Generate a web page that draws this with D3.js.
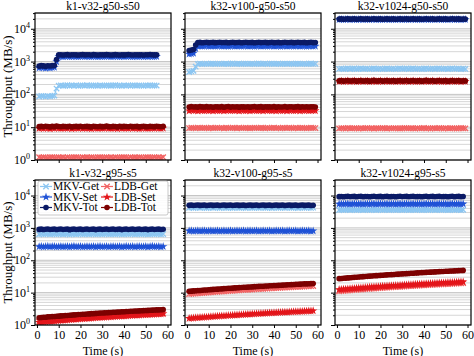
<!DOCTYPE html>
<html><head><meta charset="utf-8">
<script src="https://cdn.jsdelivr.net/npm/d3@7"></script>
<style>body{margin:0;background:#fff}svg{display:block}svg text{font-family:"Liberation Serif","DejaVu Serif",serif;fill:#000}</style>
</head><body><svg id="c" width="474" height="356"></svg>
<script>
const times = [1,2,3,4,5,6,7,8,9,10,11,12,13,14,15,16,17,18,19,20,21,22,23,24,25,26,27,28,29,30,31,32,33,34,35,36,37,38,39,40,41,42,43,44,45,46,47,48,49,50,51,52,53,54,55,56,57,58,59];
const panelTitles = ["k1-v32-g50-s50","k32-v100-g50-s50","k32-v1024-g50-s50","k1-v32-g95-s5","k32-v100-g95-s5","k32-v1024-g95-s5"];
const seriesNames = ["MKV-Get","MKV-Set","MKV-Tot","LDB-Get","LDB-Set","LDB-Tot"];
const xTicks = [0,10,20,30,40,50,60];
const yTicks = [1,10,100,1000,10000];

// Panel 1: k1-v32-g50-s50
const p1MkvGet = [86,90,88,85,89,87,90,92,150,184,188,182,186,190,183,187,185,189,181,186,188,184,190,185,183,187,186,182,189,185,184,188,186,183,187,190,184,186,182,188,185,187,183,189,186,184,188,185,182,187,186,189,184,186,185];
const p1MkvSet = [640,660,650,630,655,645,660,670,1000,1410,1430,1400,1425,1440,1405,1420,1435,1415,1400,1425,1440,1410,1430,1420,1405,1435,1415,1400,1430,1420,1410,1440,1425,1405,1415,1435,1420,1400,1430,1410,1425,1440,1415,1405,1430,1420,1410,1435,1400,1425,1415,1440,1420,1410,1430];
const p1MkvTot = [726,750,738,715,744,732,750,762,1150,1594,1618,1582,1611,1630,1588,1607,1620,1600,1581,1610,1628,1594,1620,1605,1588,1622,1601,1582,1619,1606,1594,1630,1610,1588,1602,1625,1606,1582,1617,1597,1613,1628,1601,1587,1617,1606,1594,1621,1582,1612,1601,1628,1606,1596,1619];
const p1LdbGet = [1.21,1.19,1.22,1.2,1.18,1.21,1.23,1.2,1.19,1.22,1.2,1.21,1.18,1.22,1.2,1.19,1.21,1.23,1.2,1.18,1.22,1.2,1.21,1.19,1.22,1.2,1.18,1.21,1.23,1.2,1.19,1.22,1.2,1.21,1.18,1.22,1.2,1.19,1.21,1.23,1.2,1.18,1.22,1.2,1.21,1.19,1.22,1.2,1.18,1.21,1.23,1.2,1.19,1.22,1.2,1.21,1.18,1.22];
const p1LdbSet = [9.2,9.4,9.1,9.5,9.3,9.0,9.4,9.2,9.6,9.3,9.1,9.4,9.3,9.2,9.5,9.0,9.3,9.4,9.2,9.5,9.1,9.3,9.4,9.2,9.0,9.5,9.3,9.1,9.4,9.2,9.3,9.6,9.2,9.1,9.4,9.3,9.0,9.5,9.2,9.4,9.3,9.1,9.5,9.2,9.3,9.4,9.0,9.3,9.5,9.2,9.1,9.4,9.3,9.2,9.5,9.3,9.1,9.4];
const p1LdbTot = [10.4,10.6,10.3,10.7,10.5,10.2,10.6,10.4,10.8,10.5,10.3,10.6,10.5,10.4,10.7,10.2,10.5,10.6,10.4,10.7,10.3,10.5,10.6,10.4,10.2,10.7,10.5,10.3,10.6,10.4,10.5,10.8,10.4,10.3,10.6,10.5,10.2,10.7,10.4,10.6,10.5,10.3,10.7,10.4,10.5,10.6,10.2,10.5,10.7,10.4,10.3,10.6,10.5,10.4,10.7,10.5,10.3,10.6];

// Panel 2: k32-v100-g50-s50
const p2MkvGet = [480,500,520,700,850,862,840,855,870,845,858,866,842,851,868,847,855,861,839,857,872,849,853,864,841,856,869,846,852,863,840,858,871,848,854,866,843,857,869,845,851,862,840,856,870,847,853,865,842,858,868,846,852,861,839,857,871,848,855];
const p2MkvSet = [1700,1750,1800,2500,2950,2980,2920,2960,3000,2930,2970,2990,2925,2955,2995,2935,2960,2975,2915,2965,3005,2940,2950,2985,2920,2960,2995,2935,2950,2980,2915,2965,3000,2940,2955,2990,2925,2960,2995,2930,2950,2975,2915,2960,3000,2935,2950,2985,2925,2965,2995,2935,2950,2975,2915,2960,3005,2940,2955];
const p2MkvTot = [2180,2250,2320,3200,3800,3842,3760,3815,3870,3775,3828,3856,3767,3806,3863,3782,3815,3836,3754,3822,3877,3789,3803,3849,3761,3816,3864,3781,3802,3843,3755,3823,3871,3788,3809,3856,3768,3817,3864,3775,3801,3837,3755,3816,3870,3782,3803,3850,3767,3823,3863,3781,3802,3836,3754,3817,3876,3788,3810];
const p2LdbGet = [9.4,9.6,9.5,9.3,9.7,9.5,9.4,9.6,9.5,9.3,9.6,9.4,9.5,9.7,9.4,9.5,9.3,9.6,9.5,9.4,9.7,9.5,9.3,9.6,9.4,9.5,9.6,9.4,9.3,9.5,9.7,9.5,9.4,9.6,9.5,9.3,9.6,9.4,9.5,9.7,9.4,9.5,9.3,9.6,9.5,9.4,9.7,9.5,9.3,9.6,9.4,9.5,9.6,9.4,9.3,9.5,9.7,9.5,9.4];
const p2LdbSet = [31.5,32.8,31.9,32.4,31.2,32.9,32.1,31.6,32.7,31.8,32.5,31.3,32.6,32.0,31.7,32.8,31.4,32.2,32.9,31.6,32.3,31.9,32.7,31.2,32.5,32.0,31.8,32.6,31.5,32.4,32.9,31.7,32.1,32.6,31.3,32.8,31.9,32.2,31.6,32.7,31.4,32.5,32.0,31.8,32.9,31.5,32.3,32.6,31.7,32.1,32.8,31.4,32.4,31.9,32.7,31.6,32.2,32.5,31.8];
const p2LdbTot = [41.0,42.4,41.4,41.7,40.9,42.4,41.5,41.2,42.2,41.1,42.1,40.7,42.1,41.7,41.1,42.3,40.7,41.8,42.4,41.0,42.0,41.4,42.0,40.8,41.9,41.5,41.4,42.0,40.8,41.9,42.6,41.2,41.5,42.2,40.8,42.1,41.5,41.6,41.1,42.4,40.8,42.0,41.3,41.4,42.4,40.9,42.0,42.1,41.0,41.7,42.2,40.9,42.0,41.3,42.0,41.1,41.9,42.0,41.2];

// Panel 3: k32-v1024-g50-s50
const p3MkvGet = [598,612,590,605,618,594,607,615,592,603,617,596,604,610,588,606,620,595,601,613,591,605,616,597,602,611,589,607,619,596,603,614,593,606,617,594,601,611,589,605,618,596,602,613,592,607,616,595,601,610,588,606,620,597,603,612,590,605,598];
const p3MkvSet = [19100,19350,18950,19250,19450,19000,19300,19400,18980,19200,19420,19050,19220,19330,18920,19260,19480,19020,19180,19380,18960,19240,19440,19060,19170,19360,18930,19270,19460,19040,19210,19400,18990,19250,19430,19010,19190,19350,18940,19230,19470,19050,19200,19390,18970,19280,19450,19030,19180,19340,18920,19260,19480,19060,19220,19370,18980,19240,19100];
const p3MkvTot = [19700,19960,19540,19860,20070,19590,19910,20020,19570,19800,20040,19650,19820,19940,19510,19870,20100,19620,19780,19990,19550,19850,20060,19660,19770,19970,19520,19880,20080,19640,19810,20010,19580,19860,20050,19600,19790,19960,19530,19840,20090,19650,19800,20000,19560,19890,20070,19630,19780,19950,19510,19870,20100,19660,19820,19980,19570,19850,19700];
const p3LdbGet = [9.2,9.4,9.3,9.1,9.5,9.3,9.2,9.4,9.3,9.1,9.4,9.2,9.3,9.5,9.2,9.3,9.1,9.4,9.3,9.2,9.5,9.3,9.1,9.4,9.2,9.3,9.4,9.2,9.1,9.3,9.5,9.3,9.2,9.4,9.3,9.1,9.4,9.2,9.3,9.5,9.2,9.3,9.1,9.4,9.3,9.2,9.5,9.3,9.1,9.4,9.2,9.3,9.4,9.2,9.1,9.3,9.5,9.3,9.2];
const p3LdbSet = [248,254,245,251,257,246,252,255,244,250,256,247,251,253,243,252,258,246,249,255,245,251,256,247,249,254,244,252,257,246,250,255,245,251,256,246,249,253,244,251,258,247,250,255,245,252,256,246,249,253,243,252,257,247,250,254,245,251,248];
const p3LdbTot = [257,263,254,260,266,255,261,264,253,259,265,256,260,262,252,261,267,255,258,264,254,260,265,256,258,263,253,261,266,255,259,264,254,260,265,255,258,262,253,260,267,256,259,264,254,261,265,255,258,262,252,261,266,256,259,263,254,260,257];

// Panel 4: k1-v32-g95-s5
const p4MkvGet = [636,648,628,642,655,632,645,651,630,640,653,634,643,649,626,644,657,633,639,650,629,642,654,635,640,648,627,645,656,634,641,652,631,643,655,632,639,649,628,642,656,634,640,651,630,645,654,633,639,648,627,644,657,635,641,650,630,643];
const p4MkvSet = [263,268,260,266,271,261,267,269,259,264,270,262,265,268,258,266,272,261,264,269,259,265,270,262,264,268,258,266,271,261,265,269,260,266,270,261,264,268,258,265,271,262,264,269,260,266,270,261,264,268,258,266,272,262,265,268,260,266];
const p4MkvTot = [899,916,888,908,926,893,912,920,889,904,923,896,908,917,884,910,929,894,903,919,888,907,924,897,904,916,885,911,927,895,906,921,891,909,925,893,903,917,886,907,927,896,904,920,890,911,924,894,903,916,885,910,929,897,906,918,890,909];
const p4LdbGet = [1.26,1.28,1.30,1.31,1.34,1.35,1.37,1.38,1.41,1.42,1.44,1.46,1.48,1.49,1.52,1.53,1.55,1.57,1.59,1.60,1.62,1.64,1.66,1.67,1.70,1.71,1.73,1.75,1.77,1.78,1.80,1.82,1.84,1.85,1.88,1.89,1.91,1.93,1.95,1.96,1.98,2.00,2.02,2.03,2.06,2.07,2.09,2.11,2.13,2.14,2.16,2.18,2.20,2.21,2.24,2.25,2.27,2.29];
const p4LdbSet = [1.20,1.22,1.24,1.25,1.28,1.29,1.31,1.32,1.35,1.36,1.38,1.40,1.42,1.43,1.46,1.47,1.49,1.51,1.53,1.54,1.56,1.58,1.60,1.61,1.64,1.65,1.67,1.69,1.71,1.72,1.74,1.76,1.78,1.79,1.82,1.83,1.85,1.87,1.89,1.90,1.92,1.94,1.96,1.97,2.00,2.01,2.03,2.05,2.07,2.08,2.10,2.12,2.14,2.15,2.18,2.19,2.21,2.23];
const p4LdbTot = [1.68,1.70,1.73,1.74,1.78,1.79,1.82,1.83,1.87,1.88,1.91,1.93,1.96,1.97,2.01,2.02,2.05,2.07,2.10,2.11,2.14,2.16,2.19,2.20,2.24,2.25,2.28,2.30,2.33,2.34,2.37,2.39,2.42,2.44,2.47,2.48,2.51,2.53,2.56,2.57,2.60,2.62,2.65,2.67,2.70,2.71,2.74,2.76,2.79,2.80,2.83,2.85,2.88,2.90,2.93,2.94,2.97,3.00];

// Panel 5: k32-v100-g95-s5
const p5MkvGet = [4180,4250,4130,4220,4290,4150,4230,4270,4120,4200,4280,4160,4210,4260,4110,4220,4300,4150,4190,4270,4130,4210,4290,4160,4190,4250,4110,4230,4300,4150,4200,4270,4140,4220,4290,4150,4190,4260,4120,4210,4300,4160,4200,4270,4140,4230,4290,4150,4190,4250,4110,4220,4300,4160,4200,4260,4140,4210];
const p5MkvSet = [806,818,798,812,824,801,814,821,797,809,823,803,811,819,795,813,826,800,807,820,798,811,824,803,808,817,794,814,826,801,810,820,799,812,824,800,807,818,796,811,826,803,809,820,798,814,823,801,808,817,795,813,826,803,810,818,799,811];
const p5MkvTot = [4980,5060,4930,5020,5100,4950,5030,5080,4920,5000,5090,4960,5010,5070,4910,5020,5110,4950,4990,5080,4930,5010,5100,4960,4990,5060,4910,5030,5110,4950,5000,5080,4940,5020,5100,4950,4990,5070,4920,5010,5110,4960,5000,5080,4940,5030,5100,4950,4990,5060,4910,5020,5110,4960,5000,5070,4940,5010];
const p5LdbGet = [9.0,9.1,9.3,9.4,9.5,9.6,9.7,9.9,10.0,10.1,10.2,10.4,10.5,10.6,10.7,10.8,11.0,11.1,11.2,11.3,11.4,11.6,11.7,11.8,11.9,12.1,12.2,12.3,12.4,12.5,12.7,12.8,12.9,13.0,13.1,13.3,13.4,13.5,13.6,13.7,13.9,14.0,14.1,14.2,14.4,14.5,14.6,14.7,14.8,15.0,15.1,15.2,15.3,15.5,15.6,15.7,15.8,16.0];
const p5LdbSet = [1.60,1.63,1.64,1.67,1.68,1.71,1.72,1.75,1.76,1.79,1.80,1.83,1.84,1.87,1.88,1.91,1.92,1.95,1.96,1.99,2.00,2.03,2.04,2.07,2.08,2.11,2.12,2.15,2.16,2.19,2.20,2.23,2.24,2.27,2.28,2.31,2.32,2.35,2.36,2.39,2.40,2.43,2.44,2.47,2.48,2.51,2.52,2.55,2.56,2.59,2.60,2.63,2.64,2.67,2.68,2.71,2.72,2.75];
const p5LdbTot = [11.0,11.1,11.3,11.4,11.6,11.7,11.8,12.0,12.1,12.3,12.4,12.6,12.7,12.8,13.0,13.1,13.3,13.4,13.6,13.7,13.8,14.0,14.1,14.3,14.4,14.6,14.7,14.8,15.0,15.1,15.3,15.4,15.6,15.7,15.8,16.0,16.1,16.3,16.4,16.6,16.7,16.8,17.0,17.1,17.3,17.4,17.6,17.7,17.8,18.0,18.1,18.3,18.4,18.6,18.7,18.8,19.0,19.1];

// Panel 6: k32-v1024-g95-s5
const p6MkvGet = [3580,3640,3540,3610,3670,3550,3620,3650,3530,3600,3660,3560,3610,3640,3520,3620,3680,3550,3590,3650,3540,3610,3670,3560,3590,3640,3520,3620,3680,3550,3600,3650,3540,3610,3670,3550,3590,3640,3530,3610,3680,3560,3600,3650,3540,3620,3670,3550,3590,3640,3520,3610,3680,3560,3600,3650,3540,3610];
const p6MkvSet = [5470,5540,5420,5510,5580,5440,5520,5560,5410,5500,5570,5450,5510,5550,5400,5520,5590,5440,5480,5560,5420,5510,5580,5450,5480,5540,5400,5520,5590,5440,5500,5560,5430,5510,5580,5440,5480,5550,5410,5510,5590,5450,5500,5560,5430,5520,5580,5440,5480,5540,5400,5510,5590,5450,5500,5550,5430,5510];
const p6MkvTot = [9250,9380,9170,9320,9440,9200,9330,9400,9150,9290,9420,9220,9310,9370,9140,9330,9460,9200,9270,9400,9170,9310,9440,9220,9270,9370,9140,9330,9460,9200,9290,9400,9180,9320,9440,9200,9270,9380,9150,9310,9460,9220,9290,9400,9180,9330,9440,9200,9270,9370,9140,9310,9460,9220,9290,9390,9180,9310];
const p6LdbGet = [11.0,11.2,11.3,11.5,11.6,11.8,11.9,12.1,12.2,12.4,12.5,12.7,12.8,13.0,13.1,13.3,13.4,13.6,13.7,13.9,14.0,14.2,14.3,14.5,14.6,14.8,14.9,15.1,15.2,15.4,15.5,15.7,15.8,16.0,16.1,16.3,16.4,16.6,16.7,16.9,17.0,17.2,17.3,17.5,17.6,17.8,17.9,18.1,18.2,18.4,18.5,18.7,18.8,19.0,19.1,19.3,19.4,19.6];
const p6LdbSet = [12.5,12.6,12.8,12.9,13.1,13.3,13.4,13.6,13.7,13.9,14.1,14.2,14.4,14.5,14.7,14.9,15.0,15.2,15.3,15.5,15.7,15.8,16.0,16.1,16.3,16.5,16.6,16.8,16.9,17.1,17.3,17.4,17.6,17.7,17.9,18.1,18.2,18.4,18.5,18.7,18.9,19.0,19.2,19.3,19.5,19.7,19.8,20.0,20.1,20.3,20.5,20.6,20.8,20.9,21.1,21.3,21.4,21.6];
const p6LdbTot = [27.0,27.4,27.8,28.1,28.5,28.9,29.3,29.7,30.0,30.4,30.8,31.2,31.6,31.9,32.3,32.7,33.1,33.5,33.8,34.2,34.6,35.0,35.4,35.7,36.1,36.5,36.9,37.3,37.6,38.0,38.4,38.8,39.2,39.5,39.9,40.3,40.7,41.1,41.4,41.8,42.2,42.6,43.0,43.3,43.7,44.1,44.5,44.9,45.2,45.6,46.0,46.4,46.8,47.1,47.5,47.9,48.3,48.7];

const panelData = [
  [p1MkvGet,p1MkvSet,p1MkvTot,p1LdbGet,p1LdbSet,p1LdbTot],
  [p2MkvGet,p2MkvSet,p2MkvTot,p2LdbGet,p2LdbSet,p2LdbTot],
  [p3MkvGet,p3MkvSet,p3MkvTot,p3LdbGet,p3LdbSet,p3LdbTot],
  [p4MkvGet,p4MkvSet,p4MkvTot,p4LdbGet,p4LdbSet,p4LdbTot],
  [p5MkvGet,p5MkvSet,p5MkvTot,p5LdbGet,p5LdbSet,p5LdbTot],
  [p6MkvGet,p6MkvSet,p6MkvTot,p6LdbGet,p6LdbSet,p6LdbTot]
];

const colors = ["#8cc6f2","#1f52d6","#0a1a66","#f26262","#e3151a","#7d0000"];
const markers = ["x","star","circle","x","star","circle"];
const FONT = "Liberation Serif, DejaVu Serif, serif";

const svg = d3.select("#c");
const colX = [35,185,335], pw = 136;
const rowY = [[13,160],[180,325]];
const x = d3.scaleLinear().domain([-0.9,61.6]).range([0,pw]);

function drawMarker(g, type, color){
  if(type==="x"){
    const r=2.7;
    g.append("path").attr("d",`M${-r},${-r}L${r},${r}M${-r},${r}L${r},${-r}`).attr("stroke",color).attr("stroke-width",1.3).attr("fill","none");
  } else if(type==="star"){
    g.append("path").attr("d",d3.symbol().type(d3.symbolStar).size(22)()).attr("fill",color);
  } else {
    g.append("circle").attr("r",2.8).attr("fill",color);
  }
}

const minorVals = [];
for(let k=0;k<5;k++) for(let m=1;m<10;m++){ const v=m*Math.pow(10,k); if(v<=Math.pow(10,4.48)) minorVals.push(v); }

panelTitles.forEach((title,pi)=>{
  const col = pi%3, row = Math.floor(pi/3);
  const [top,bot] = rowY[row];
  const ph = bot-top;
  const y = d3.scaleLog().domain([1,Math.pow(10,4.48)]).range([ph,0]);
  const g = svg.append("g").attr("transform",`translate(${colX[col]},${top})`);
  const cid = "clip"+pi;
  g.append("clipPath").attr("id",cid).append("rect").attr("width",pw).attr("height",ph);
  g.append("g").selectAll("line").data(minorVals).join("line")
    .attr("x1",0).attr("x2",pw).attr("y1",d=>y(d)).attr("y2",d=>y(d))
    .attr("stroke",d=>yTicks.includes(d)?"#c4c4c4":"#d6d6d6").attr("stroke-width",1);
  const plot = g.append("g").attr("clip-path",`url(#${cid})`);
  panelData[pi].forEach((vals,si)=>{
    const pts = vals.map((v,i)=>[times[i],v]);
    plot.append("path").datum(pts).attr("fill","none").attr("stroke",colors[si]).attr("stroke-width",1.2)
      .attr("d",d3.line().x(d=>x(d[0])).y(d=>y(d[1])));
    pts.forEach(p=>{
      const mg = plot.append("g").attr("transform",`translate(${x(p[0])},${y(p[1])})`);
      drawMarker(mg,markers[si],colors[si]);
    });
  });
  const xa = g.append("g").attr("transform",`translate(0,${ph})`)
    .call(d3.axisBottom(x).tickValues(xTicks).tickSize(3).tickPadding(2.5).tickFormat(row===1?d3.format("d"):""));
  xa.attr("font-family",FONT).attr("font-size",12);
  xa.select(".domain").remove();
  const ya = g.append("g").call(d3.axisLeft(y).tickValues(minorVals).tickSize(2).tickFormat(""));
  ya.select(".domain").remove();
  ya.selectAll(".tick line").attr("x2",d=>yTicks.includes(d)?-4:-2);
  if(col===0){
    yTicks.forEach((v,k)=>{
      const t = g.append("text").attr("x",-5).attr("y",y(v)+4).attr("text-anchor","end").attr("font-size",12).attr("font-family",FONT);
      t.append("tspan").text("10");
      t.append("tspan").attr("font-size",8).attr("dy",-5).text(k);
    });
  }
  g.append("rect").attr("width",pw).attr("height",ph).attr("fill","none").attr("stroke","#000").attr("stroke-width",1.2);
  g.append("text").attr("x",pw/2).attr("y",-3.5).attr("text-anchor","middle").attr("font-size",11.5).attr("font-family",FONT).text(title);
  if(row===1){
    g.append("text").attr("x",pw/2).attr("y",ph+29.5).attr("text-anchor","middle").attr("font-size",12).attr("font-family",FONT).text("Time (s)");
  }
  if(col===0){
    g.append("text").attr("transform",`translate(-23,${ph/2}) rotate(-90)`).attr("text-anchor","middle").attr("font-size",13).attr("font-family",FONT).text("Throughput (MB/s)");
  }
});

const lg = svg.append("g").attr("transform","translate(38,181)");
lg.append("rect").attr("width",130).attr("height",34).attr("rx",2).attr("fill","#fff").attr("fill-opacity",0.9).attr("stroke","#bbb").attr("stroke-width",0.8);
seriesNames.forEach((name,i)=>{
  const c = Math.floor(i/3), r = i%3;
  const hx = c===0?2:63, yy = 5.5+r*10.5;
  const e = lg.append("g").attr("transform",`translate(${hx},${yy})`);
  e.append("line").attr("x1",0).attr("x2",12).attr("stroke",colors[i]).attr("stroke-width",1.2);
  const mg = e.append("g").attr("transform","translate(6,0)");
  drawMarker(mg,markers[i],colors[i]);
  e.append("text").attr("x",13).attr("y",3.8).attr("font-size",11.5).attr("font-family",FONT).text(name);
});
</script></body></html>
